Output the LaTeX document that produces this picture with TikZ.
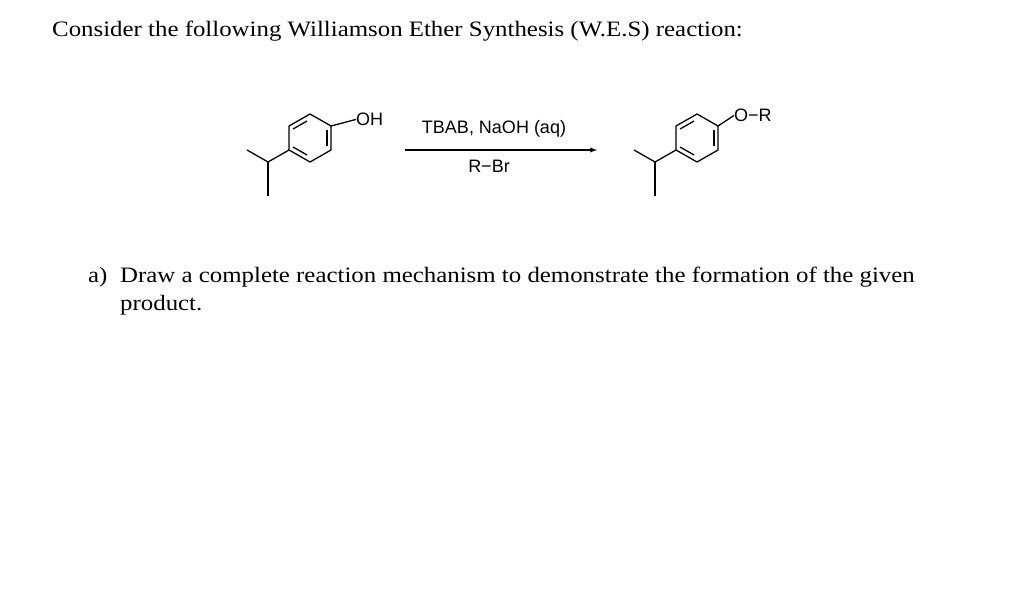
\documentclass[tikz,border=0pt]{standalone}
\usepackage{fontspec}
\setmainfont[FakeStretch=1.13]{Liberation Serif}
\newfontfamily\chem{Liberation Sans}
\begin{document}
\begin{tikzpicture}[x=1pt,y=-1pt,bond/.style={line width=1.3pt},
 lbl/.style={font=\chem\fontsize{18}{20}\selectfont,inner sep=0pt},
 txt/.style={anchor=west,inner sep=0pt,font=\fontsize{22}{26}\selectfont}]
\useasboundingbox (0,0) rectangle (1024,591);
\node[txt] (title) at (52,31) {Consider the following Williamson Ether Synthesis (W.E.S) reaction:};
\node[txt] (qa) at (88,277) {a)};
\node[txt] (q1) at (120,277) {Draw a complete reaction mechanism to demonstrate the formation of the given};
\node[txt] (q2) at (120,305) {product.};
\foreach \cx/\nm in {310/L,697/P}{
 \begin{scope}[shift={(\cx,138)}]
 \coordinate (\nm1) at (0,-24); \coordinate (\nm2) at (21,-12); \coordinate (\nm3) at (21,12);
 \coordinate (\nm4) at (0,24); \coordinate (\nm5) at (-21,12); \coordinate (\nm6) at (-21,-12);
 \draw[bond,line join=round] (\nm1)--(\nm2)--(\nm3)--(\nm4)--(\nm5)--(\nm6)--cycle;
 \draw[bond] (-17,-9)--(-3,-17);
 \draw[bond] (17,-8)--(17,8);
 \draw[bond] (-17,9)--(-3,17);
 \coordinate (\nm ch) at (-42,24);
 \draw[bond] (\nm5)--(\nm ch)--(-63,12);
 \draw[bond] (\nm ch)--(-42,58);
 \end{scope}}
\node[lbl,anchor=south west] (oh) at (356,126) {OH};
\draw[bond] (L2)--(oh.west);
\node[lbl,anchor=south west] (o) at (734,122) {O−R};
\draw[bond] (P2)--(o.west);
\coordinate (a1) at (405,150); \coordinate (a2) at (597,150);
\draw[bond,-latex] (a1)--(a2);
\node[lbl] (cond1) at (494,129) {TBAB, NaOH (aq)};
\node[lbl] (cond2) at (489,166) {R−Br};
\end{tikzpicture}
\end{document}
